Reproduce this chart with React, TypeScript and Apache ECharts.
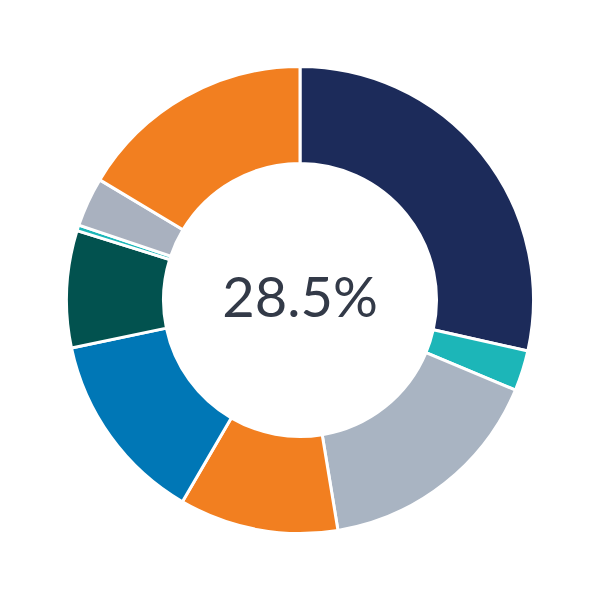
import React, { useEffect, useRef } from 'react';
import * as echarts from 'echarts';

const labels = ['A', 'B', 'C', 'D', 'E', 'F', 'G', 'H', 'I'];
const values = [28.5, 2.8, 16.1, 11.0, 13.3, 8.1, 0.4, 3.4, 16.4];
const colors = ['#1c2b5a', '#1cb6b8', '#a9b4c2', '#f27f20', '#0077b6', '#02524f', '#1cb6b8', '#a9b1bf', '#f27f20'];
const centerLabel = '28.5%';

const App: React.FC = () => {
  const chartRef = useRef<HTMLDivElement>(null);

  useEffect(() => {
    if (!chartRef.current) return;
    document.body.style.margin = '0';
    const chart = echarts.init(chartRef.current, null, { renderer: 'svg' });

    chart.setOption({
      animation: false,
      graphic: [
        {
          type: 'text',
          x: 300,
          y: 295,
          style: {
            text: centerLabel,
            font: '56px Lato',
            fill: '#333a48',
            textAlign: 'center',
            textVerticalAlign: 'middle',
          },
        },
      ],
      series: [
        {
          type: 'pie',
          center: [300, 300],
          radius: [136.5, 233.5],
          startAngle: 90,
          clockwise: true,
          label: { show: false },
          labelLine: { show: false },
          emphasis: { disabled: true },
          data: values.map((v, i) => ({
            value: v,
            name: labels[i],
            itemStyle: { color: colors[i], borderColor: '#fff', borderWidth: 3 },
          })),
        },
      ],
    });

    return () => {
      chart.dispose();
    };
  }, []);

  return <div ref={chartRef} style={{ width: 600, height: 600 }} />;
};

export default App;
